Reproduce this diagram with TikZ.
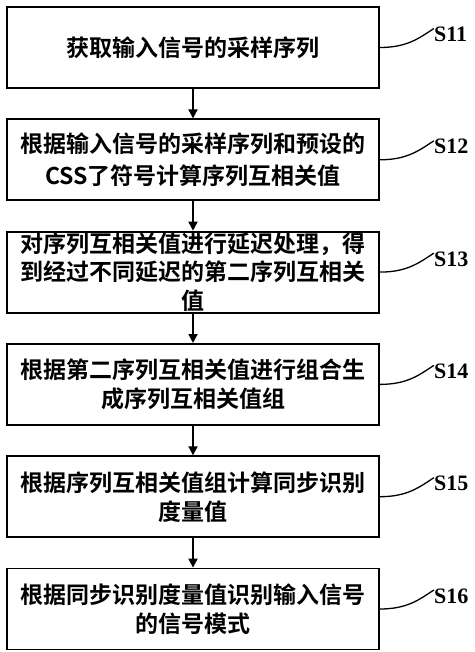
\documentclass[tikz,border=0pt]{standalone}
\usepackage{fontspec}
\usepackage{tikz}
\usetikzlibrary{arrows.meta,positioning}
\newfontfamily\cjk{Noto Sans CJK SC}[BoldFont={Noto Sans CJK SC Bold}]
\newfontfamily\labfont{Liberation Serif}

\begin{document}
\begin{tikzpicture}[x=1pt,y=1pt,
  stepbox/.style={draw,line width=1.8pt,minimum width=372pt,minimum height=81pt,
    inner sep=1pt,align=center,font=\cjk\bfseries\fontsize{23}{29}\selectfont},
  steplab/.style={anchor=west,inner sep=0pt,font=\labfont\bfseries\fontsize{22}{22}\selectfont},
  flow/.style={line width=1.8pt,-{Triangle[width=9pt,length=9pt]}},
  tie/.style={line width=1.3pt},
  node distance=29.5pt]
\useasboundingbox (0,0) rectangle (474,-652);
% steps
\node[stepbox] (box1) at (193,-47.5) {获取输入信号的采样序列};
\node[stepbox,below=of box1,font=\cjk\bfseries\fontsize{23}{32}\selectfont] (box2)
  {根据输入信号的采样序列和预设的\\CSS了符号计算序列互相关值};
\node[stepbox,below=of box2,font=\cjk\bfseries\fontsize{23}{28.5}\selectfont] (box3)
  {对序列互相关值进行延迟处理，得\\到经过不同延迟的第二序列互相关\\值};
\node[stepbox,below=of box3] (box4) {根据第二序列互相关值进行组合生\\成序列互相关值组};
\node[stepbox,below=of box4] (box5) {根据序列互相关值组计算同步识别\\度量值};
\node[stepbox,below=of box5] (box6) {根据同步识别度量值识别输入信号\\的信号模式};
% arrows
\foreach \a/\b in {1/2,2/3,3/4,4/5,5/6}
  \draw[flow] (box\a.south) -- (box\b.north);
% step labels
\foreach \i/\lab in {1/S11,2/S12,3/S13,4/S14,5/S15,6/S16}{
  \node[steplab] (lab\i) at ([xshift=54pt,yshift=13pt]box\i.east) {\lab};
  \draw[tie] (box\i.east) .. controls +(28,0) and +(-14,-9) .. ([yshift=6pt]lab\i.west);
}
\end{tikzpicture}
\end{document}
